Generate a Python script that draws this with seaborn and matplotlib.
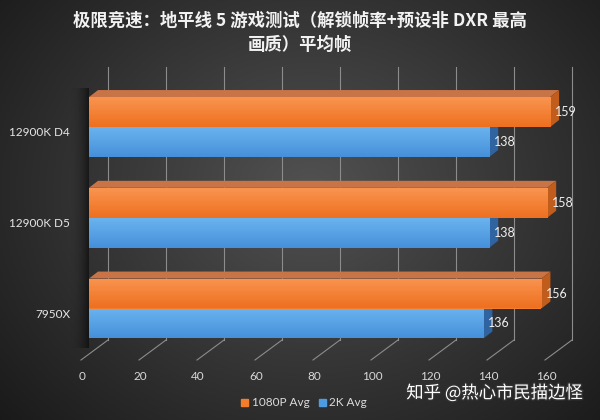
import numpy as np
import pandas as pd
import seaborn as sns
from matplotlib import pyplot as plt
from matplotlib.patches import Polygon
import matplotlib.patheffects as pe

cpus = ['12900K D4', '12900K D5', '7950X']
series = ['1080P Avg', '2K Avg']
fps_1080p = [159, 158, 156]
fps_2k = [138, 138, 136]
xticks = [0, 20, 40, 60, 80, 100, 120, 140, 160]
title = '极限竞速：地平线 5 游戏测试（解锁帧率+预设非 DXR 最高\n画质）平均帧'
watermark = '知乎 @热心市民描边怪'

df = pd.DataFrame({'CPU': cpus * 2,
                   'Series': [series[0]] * 3 + [series[1]] * 3,
                   'FPS': fps_1080p + fps_2k})

cjk = ['Noto Sans CJK SC', 'DejaVu Sans']
lat = ['Lato', 'DejaVu Sans']

# pixel layout of the bar plane
X0, SX = 89, 2.9     # px of value 0, px per unit
Y0, SY = 127, 90.75  # px of first category centre, px per category
W, H = 600, 420


def dx(px):
    return px / SX


def dy(px):
    return px / SY


def cy(py):
    return (py - Y0) / SY


fig = plt.figure(figsize=(6, 4.2), dpi=100)

# background vignette
ax_bg = fig.add_axes([0, 0, 1, 1])
yy, xx = np.mgrid[0:H, 0:W]
r = np.sqrt(((xx - 310) / 360.0) ** 2 + ((yy - 190) / 300.0) ** 2)
shade = np.clip(0.32 - 0.19 * r, 0.1, 0.33)
ax_bg.imshow(np.dstack([shade] * 3), extent=(0, W, H, 0), aspect='auto')
ax_bg.axis('off')

ax = fig.add_axes([0, 0, 1, 1])
ax.patch.set_alpha(0)
sns.barplot(data=df, y='CPU', x='FPS', hue='Series', orient='h',
            palette=['#f47d2c', '#4f9be2'], width=0.66, saturation=1,
            legend=False, ax=ax, linewidth=0, zorder=3)

# back wall + floor grid
for v in xticks:
    ax.plot([v + dx(19)] * 2, [cy(67), cy(340)], color='#8c8c8c', lw=0.8, zorder=1)
    ax.plot([v + dx(19), v - dx(8)], [cy(340), cy(360)], color='#8c8c8c', lw=0.8, zorder=1)
    ax.text(v - dx(7), cy(376), str(v), ha='center', va='center',
            fontsize=8.5, color='#d8d8d8', family=lat)

# soft shadow left of the bars
sh = np.zeros((1, 60, 4))
sh[..., 3] = np.linspace(0, 1, 60) ** 2.2 * 0.55
ax.imshow(sh, extent=(dx(-20), 0, cy(348), cy(88)), aspect='auto', zorder=2)

grads = [('#f9944f', '#ee7020'), ('#6ab3ef', '#4690da')]
tops = ['#c97447', '#3f75ad']
sides = ['#c05c1c', '#2f64a0']
ddx, ddy = dx(9), -dy(7)
for i, cont in enumerate(ax.containers):
    c1 = np.array(plt.matplotlib.colors.to_rgb(grads[i][0]))
    c2 = np.array(plt.matplotlib.colors.to_rgb(grads[i][1]))
    t = np.linspace(0, 1, 60)[:, None]
    img = (c1 * (1 - t) + c2 * t)[:, None, :]
    for p in cont.patches:
        x0, y0, w, h = p.get_x(), p.get_y(), p.get_width(), p.get_height()
        im = ax.imshow(img, extent=(x0, x0 + w, y0 + h, y0), aspect='auto', zorder=3.5)
        im.set_clip_path(p)
        ax.add_patch(Polygon([(x0, y0), (x0 + w, y0), (x0 + w + ddx, y0 + ddy), (x0 + ddx, y0 + ddy)],
                             closed=True, facecolor=tops[i], edgecolor='none', zorder=2.5))
        ax.add_patch(Polygon([(x0 + w, y0), (x0 + w + ddx, y0 + ddy), (x0 + w + ddx, y0 + h + ddy), (x0 + w, y0 + h)],
                             closed=True, facecolor=sides[i], edgecolor='none', zorder=2.5))
        ax.text(x0 + w + dx(5), y0 + h / 2, f'{w:.0f}', ha='left', va='center',
                fontsize=9, color='#f0f0f0', family=lat, zorder=5)

for i, name in enumerate(cpus):
    ax.text(dx(70 - X0), i + dy(6), name, ha='right', va='center',
            fontsize=8.5, color='#e6e6e6', family=lat)

ax.set_xlim(dx(-X0), dx(W - X0))
ax.set_ylim(cy(H), cy(0))
ax.axis('off')

# legend
handles = [plt.Rectangle((0, 0), 1, 1, color=c) for c in ['#f47d2c', '#4f9be2']]
leg = fig.legend(handles, series, loc='center', bbox_to_anchor=(304 / W, 1 - 403 / H),
                 ncol=2, frameon=False, handlelength=0.6, handleheight=0.6,
                 handletextpad=0.3, columnspacing=0.8, labelcolor='#dcdcdc',
                 prop={'family': lat, 'size': 8.5})

fig.text(0.5, 1 - 33 / H, title, ha='center', va='center', fontsize=12.5,
         fontweight='bold', color='#f2f2f2', family=cjk, linespacing=1.45)
fig.text(583 / W, 1 - 393 / H, watermark, ha='right', va='center', fontsize=12.5,
         color='white', family=cjk,
         path_effects=[pe.withStroke(linewidth=2, foreground='#333333')])

fig.savefig('out.png', dpi=100)
